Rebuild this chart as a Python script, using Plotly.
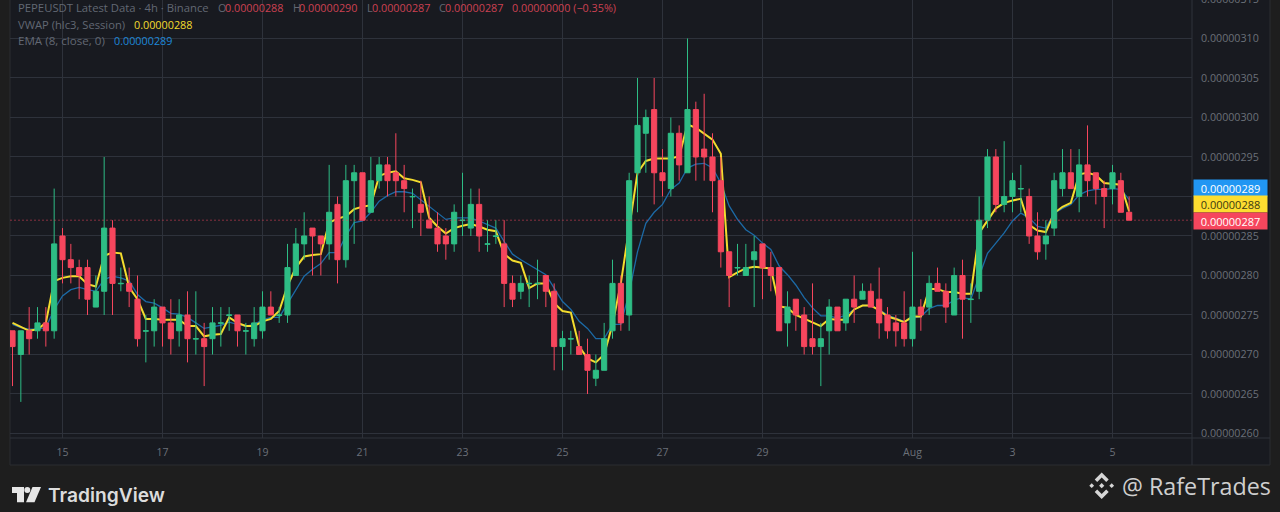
import pandas as pd
import plotly.graph_objects as go

W, H = 1280, 512
# plot area in page pixels
L, R, T, B = 10, 1192, 0, 438

# prices in units of 0.00000001, 4h candles from 14 Jul 2023
open_ = [273, 270, 273, 273, 274, 273, 285, 282, 281, 281, 276, 278, 286, 278.95, 279, 277, 272.95, 273, 276, 274,
         273, 275, 271.95, 272, 272, 273.95, 274.95, 275, 272.95, 272, 273, 276, 274.95, 275, 280, 284, 286, 285, 284, 289,
         282, 292, 293, 288, 292, 294, 293, 292, 289.95, 289, 287, 286, 285, 284, 286.95, 286, 289, 283.95, 284.95, 284,
         279, 278, 278.95, 278.95, 280, 278, 271, 271.95, 271, 270, 267, 268, 273, 279, 275, 293, 298, 301, 293, 291,
         298, 293, 301, 296, 295, 292, 283, 280.95, 280, 282, 284, 281, 281, 274, 277, 275, 272, 271, 273, 276,
         274, 277, 277, 278, 277, 275, 274, 274, 272, 276, 276, 279, 278, 275, 280, 276.95, 278, 287, 295, 289,
         290, 290.95, 290, 285, 284, 286, 291, 293, 290, 294, 293, 291, 291, 292, 288]
high = [273, 273, 276, 276, 276, 291, 286, 284, 282, 282, 280, 295, 287, 281, 281, 280, 275, 277, 276, 277,
        277, 278, 278, 274, 276, 276, 276, 275, 274, 276, 278, 278, 276, 284, 286, 288, 286, 285, 294, 290,
        294, 294, 293, 295, 295, 295, 298, 294, 291, 292, 290, 288, 286, 289, 293, 291, 291, 287, 287, 287,
        280, 280, 280, 282, 280, 279, 273, 273, 273, 272, 270, 274, 282, 280, 293, 305, 301, 305, 296, 300,
        299, 310, 302, 303, 298, 295, 283, 284, 284, 285, 284, 283, 281, 278, 277, 276, 279, 274, 277, 276,
        277, 280, 279, 279, 281, 276, 275, 278, 283, 277, 280, 281, 279, 281, 282, 279, 290, 296, 296, 297,
        293, 294, 291, 288, 287, 293, 296, 296, 296, 299, 293, 292, 294, 293, 290]
low = [266, 264, 270, 272, 271, 272, 279, 279, 277, 275, 276, 275, 275, 278, 276, 271, 269, 271, 271, 270,
       271, 269, 270, 266, 270, 271, 273, 271, 270, 271, 272, 275, 274, 274, 280, 282, 280, 280, 282, 279,
       281, 284, 287, 288, 291, 290, 290, 288, 286, 285, 286, 283, 282, 283, 285, 285, 283, 283, 284, 276,
       276, 277, 276, 277, 276, 268, 268, 270, 270, 265, 266, 268, 272, 273, 273, 288, 293, 289, 290, 290,
       292, 293, 292, 292, 288, 281, 276, 280, 280, 276, 277, 278, 273, 271, 273, 270, 270, 266, 270, 273,
       273, 274, 277, 276, 272, 272, 271, 271, 271, 273, 275, 278, 274, 275, 272, 274, 277, 286, 288, 288,
       288, 288, 284, 282, 282, 285, 290, 291, 288, 290, 289, 286, 289, 288, 287]
close = [271, 273, 272, 274, 273, 284, 282, 281, 280, 277, 278, 286, 279, 279, 278, 272, 273, 276, 274, 272,
         275, 272, 272, 271, 274, 274, 275, 273, 273, 274, 276, 275, 275, 281, 284, 285, 285, 284, 288, 282,
         292, 293, 287, 292, 294, 292, 292, 291, 290, 288, 286, 284, 284, 288, 287, 289, 285, 284, 285, 279,
         277, 279, 279, 279, 278, 271, 272, 272, 270, 268, 268, 272, 279, 274, 292, 299, 300, 293, 292, 298,
         294, 301, 295, 295, 292, 283, 280, 281, 281, 283, 281, 280, 273, 276, 275, 271, 271, 272, 276, 273,
         277, 276, 278, 276, 274, 273, 273, 272, 276, 275, 279, 278, 276, 280, 277, 277, 287, 295, 289, 290,
         292, 291, 285, 283, 285, 292, 293, 291, 294, 292, 291, 290, 293, 288, 287]
vwap = [274.0, 273.5, 273.0, 273.2, 274.0, 279.3, 279.7, 279.9, 279.9, 278.9, 278.6, 282.5, 282.9, 282.8, 278.5, 277.0, 274.5, 274.5, 274.4, 274.4,
        274.4, 273.6, 273.6, 272.3, 272.5, 272.6, 274.7, 274.0, 273.6, 273.6, 274.2, 274.5, 275.5, 278.7, 281.0, 282.4, 282.6, 282.7, 286.7, 287.2,
        287.5, 288.4, 288.7, 288.9, 292.6, 293.0, 293.2, 292.3, 292.1, 291.8, 287.3, 286.2, 285.3, 286.0, 286.3, 286.5, 286.2, 285.8, 285.6, 282.7,
        281.9, 281.6, 278.4, 279.0, 279.0, 276.5, 275.5, 275.3, 271.0, 269.5, 269.0, 270.0, 273.8, 279.0, 286.2, 293.0, 294.5, 294.8, 294.8, 294.8,
        295.1, 299.1, 298.7, 298.0, 297.2, 295.4, 279.8, 280.4, 280.9, 281.1, 281.0, 280.9, 276.1, 275.9, 275.0, 274.5, 274.1, 273.6, 274.5, 274.4,
        274.4, 275.7, 276.2, 276.2, 275.6, 274.8, 274.5, 274.1, 274.8, 274.8, 278.3, 278.3, 277.9, 277.9, 277.7, 277.7, 285.4, 287.0, 288.5, 289.2,
        289.5, 289.7, 286.4, 285.7, 285.5, 287.9, 288.7, 289.2, 292.8, 293.0, 292.7, 291.7, 291.6, 291.5, 288.1]
ema = [273.8, 273.4, 273.2, 273.2, 273.4, 275.7, 277.4, 278.2, 278.5, 278.2, 278.0, 279.5, 279.9, 279.7, 279.3, 277.6, 276.7, 276.5, 275.9, 275.2,
       275.1, 274.7, 274.0, 273.3, 273.5, 273.7, 274.1, 273.8, 273.6, 273.8, 274.4, 274.7, 274.7, 276.4, 278.1, 279.9, 280.8, 281.5, 282.9, 282.9,
       285.0, 286.7, 286.9, 288.0, 289.4, 290.1, 290.6, 290.6, 290.4, 289.6, 288.8, 287.9, 287.1, 287.3, 287.3, 287.3, 286.9, 286.5, 286.0, 284.3,
       282.7, 282.0, 281.4, 280.8, 280.1, 278.4, 276.7, 275.7, 274.2, 273.3, 272.0, 272.0, 273.8, 273.8, 277.8, 283.0, 286.6, 288.0, 289.0, 290.9,
       291.7, 293.6, 294.1, 294.2, 293.6, 291.7, 288.8, 287.1, 285.8, 285.1, 284.1, 283.3, 281.2, 280.1, 278.8, 277.2, 275.9, 274.9, 274.9, 274.6,
       275.0, 275.7, 276.2, 276.2, 275.7, 275.0, 274.6, 274.2, 274.6, 274.8, 275.8, 276.2, 276.2, 276.9, 277.2, 277.0, 279.9, 282.8, 284.1, 285.4,
       286.9, 287.9, 287.3, 286.2, 286.0, 287.9, 288.5, 289.0, 290.2, 290.7, 290.9, 290.9, 291.0, 290.9, 289.6]

date_ticks = ["2023-07-15", "2023-07-17", "2023-07-19", "2023-07-21", "2023-07-23", "2023-07-25", "2023-07-27",
              "2023-07-29", "2023-08-01", "2023-08-03", "2023-08-05"]
date_labels = ["15", "17", "19", "21", "23", "25", "27", "29", "Aug", "3", "5"]
price_ticks = [260, 265, 270, 275, 280, 285, 290, 295, 300, 305, 310]
# the 290 label sits under the last value tags
price_labels = ["" if p == 290 else "0.00000%d" % p for p in price_ticks]

GREEN = "#2ebd85"
RED = "#f6465d"
GRID = "#2e323b"
TICK_COL = "#6b7079"
LEGEND_COL = "#626873"
LEGEND_RED = "#cc4152"
FONT = "Open Sans"

times = pd.date_range("2023-07-14 00:00", periods=len(close), freq="4h")
bar = pd.Timedelta(hours=4)
x_range = [times[0] - 0.3 * bar, times[0] + 141.54 * bar]
y_range = [259.43, 314.87]


def px(x):
    return (x - L) / (R - L)


def py(y):
    return (B - y) / (B - T)


def path(points):
    return "M " + " L ".join("%.5f,%.5f" % (px(a), py(b)) for a, b in points) + " Z"


def diamond(cx, cy, r):
    return path([(cx - r, cy), (cx, cy - r), (cx + r, cy), (cx, cy + r)])


def label(text, x, y, size=10.8, color=LEGEND_COL, weight="normal", **kw):
    return dict(text=text, x=px(x), y=py(y), xref="paper", yref="paper", xanchor=kw.pop("xanchor", "left"),
                yanchor="middle", showarrow=False, borderpad=0,
                font=dict(family=kw.pop("family", FONT), size=size, color=color, weight=weight), **kw)


fig = go.Figure()

# lines stay on the main y axis, candles on an overlay so they paint on top
fig.add_trace(go.Scatter(x=times, y=ema, mode="lines", line=dict(color="#1c6aa6", width=1.3), hoverinfo="skip"))
fig.add_trace(go.Scatter(x=times, y=vwap, mode="lines", line=dict(color="#f3dc2e", width=2), hoverinfo="skip"))
fig.add_trace(go.Candlestick(x=times, open=open_, high=high, low=low, close=close, yaxis="y2", whiskerwidth=0,
                             increasing=dict(line=dict(color=GREEN, width=1), fillcolor=GREEN),
                             decreasing=dict(line=dict(color=RED, width=1), fillcolor=RED)))

shapes = [
    # chart frame and axis rules
    dict(type="rect", xref="paper", yref="paper", x0=px(10), x1=px(1270), y0=py(-2), y1=py(465), layer="below",
         fillcolor="#181a20", line=dict(color="#2a2c31", width=1)),
    dict(type="line", xref="paper", yref="paper", x0=px(10), x1=px(1270), y0=py(438), y1=py(438),
         line=dict(color=GRID, width=1)),
    dict(type="line", xref="paper", yref="paper", x0=px(1192), x1=px(1192), y0=py(-2), y1=py(465),
         line=dict(color=GRID, width=1)),
    # last price line
    dict(type="line", xref="paper", yref="y", x0=0, x1=1, y0=close[-1], y1=close[-1],
         line=dict(color="rgba(246,70,93,0.5)", width=1, dash="2px,2px")),
    # TradingView mark
    dict(type="path", xref="paper", yref="paper", fillcolor="#e6e6e6", line=dict(width=0),
         path=path([(12, 487), (24, 487), (24, 502.3), (17, 502.3), (17, 493), (12, 493)])),
    dict(type="circle", xref="paper", yref="paper", fillcolor="#e6e6e6", line=dict(width=0),
         x0=px(24.3), x1=px(30.3), y0=py(487), y1=py(493)),
    dict(type="path", xref="paper", yref="paper", fillcolor="#e6e6e6", line=dict(width=0),
         path=path([(32.5, 487), (41, 487), (34.5, 502.3), (26, 502.3)])),
    # Binance mark
    dict(type="path", xref="paper", yref="paper", fillcolor="#d6d6d6", line=dict(width=0), path=diamond(1101.7, 485.7, 2.6)),
    dict(type="path", xref="paper", yref="paper", fillcolor="#d6d6d6", line=dict(width=0), path=diamond(1091.7, 485.7, 2.4)),
    dict(type="path", xref="paper", yref="paper", fillcolor="#d6d6d6", line=dict(width=0), path=diamond(1111.7, 485.7, 2.4)),
    dict(type="path", xref="paper", yref="paper", fillcolor="#d6d6d6", line=dict(width=0),
         path=path([(1101.7, 472.5), (1108.7, 479.5), (1106.2, 482), (1101.7, 477.5), (1097.2, 482), (1094.7, 479.5)])),
    dict(type="path", xref="paper", yref="paper", fillcolor="#d6d6d6", line=dict(width=0),
         path=path([(1101.7, 498.9), (1108.7, 491.9), (1106.2, 489.4), (1101.7, 493.9), (1097.2, 489.4), (1094.7, 491.9)])),
]

annotations = [
    label("PEPEUSDT Latest Data · 4h · Binance", 17, 7, size=11.3),
    label("O", 217, 7), label("0.00000288", 224, 7, color=LEGEND_RED),
    label("H", 291.5, 7), label("0.00000290", 297.7, 7, color=LEGEND_RED),
    label("L", 365.5, 7), label("0.00000287", 370.7, 7, color=LEGEND_RED),
    label("C", 438, 7), label("0.00000287", 444, 7, color=LEGEND_RED),
    label("0.00000000 (−0.35%)", 510.7, 7, color=LEGEND_RED),
    label("VWAP (hlc3, Session)", 17, 24, size=11.2),
    label("0.00000288", 132.7, 24, color="#f3dc2e"),
    label("EMA (8, close, 0)", 17, 40, size=11.6),
    label("0.00000289", 112.5, 40, color="#1e88d8"),
    # price tick cut by the top edge
    label("0.00000315", 1200, -1, size=10.7, color=TICK_COL),
    # last value tags
    label("0.00000289", 1193, 187.5, size=11, color="#ffffff", width=73, height=16, bgcolor="#2196f3", align="center"),
    label("0.00000288", 1193, 204, size=11, color="#3b3a12", width=73, height=16, bgcolor="#fddd30", align="center"),
    label("0.00000287", 1193, 220.5, size=11, color="#ffffff", width=73, height=16, bgcolor="#f6465d", align="center"),
    # footer
    label("TradingView", 46.5, 495, size=19.2, color="#dcdcdc", family="Inter", weight=600),
    label("@ RafeTrades", 1121, 486, size=23.3, color="#cfcfcf"),
]

fig.update_layout(
    width=W, height=H,
    margin=dict(l=L, r=W - R, t=T, b=H - B, pad=0),
    paper_bgcolor="#1e1e1e",
    plot_bgcolor="rgba(0,0,0,0)",
    showlegend=False,
    dragmode=False,
    boxgap=0.12,
    shapes=shapes,
    annotations=annotations,
    xaxis=dict(range=x_range, tickmode="array", tickvals=date_ticks, ticktext=date_labels, showgrid=True,
               gridcolor=GRID, gridwidth=1, zeroline=False, showline=False, ticks="", rangeslider=dict(visible=False),
               tickfont=dict(family=FONT, size=10.5, color=TICK_COL), tickangle=0, ticklabelstandoff=6),
    yaxis=dict(range=y_range, side="right", tickmode="array", tickvals=price_ticks, ticktext=price_labels,
               showgrid=True, gridcolor=GRID, gridwidth=1, zeroline=False, showline=False, ticks="",
               tickfont=dict(family=FONT, size=10.7, color=TICK_COL), ticklabelstandoff=8),
    yaxis2=dict(range=y_range, overlaying="y", side="right", visible=False, showgrid=False),
)

fig.write_html("out.html", config=dict(displayModeBar=False), post_script="document.body.style.margin='0'")
